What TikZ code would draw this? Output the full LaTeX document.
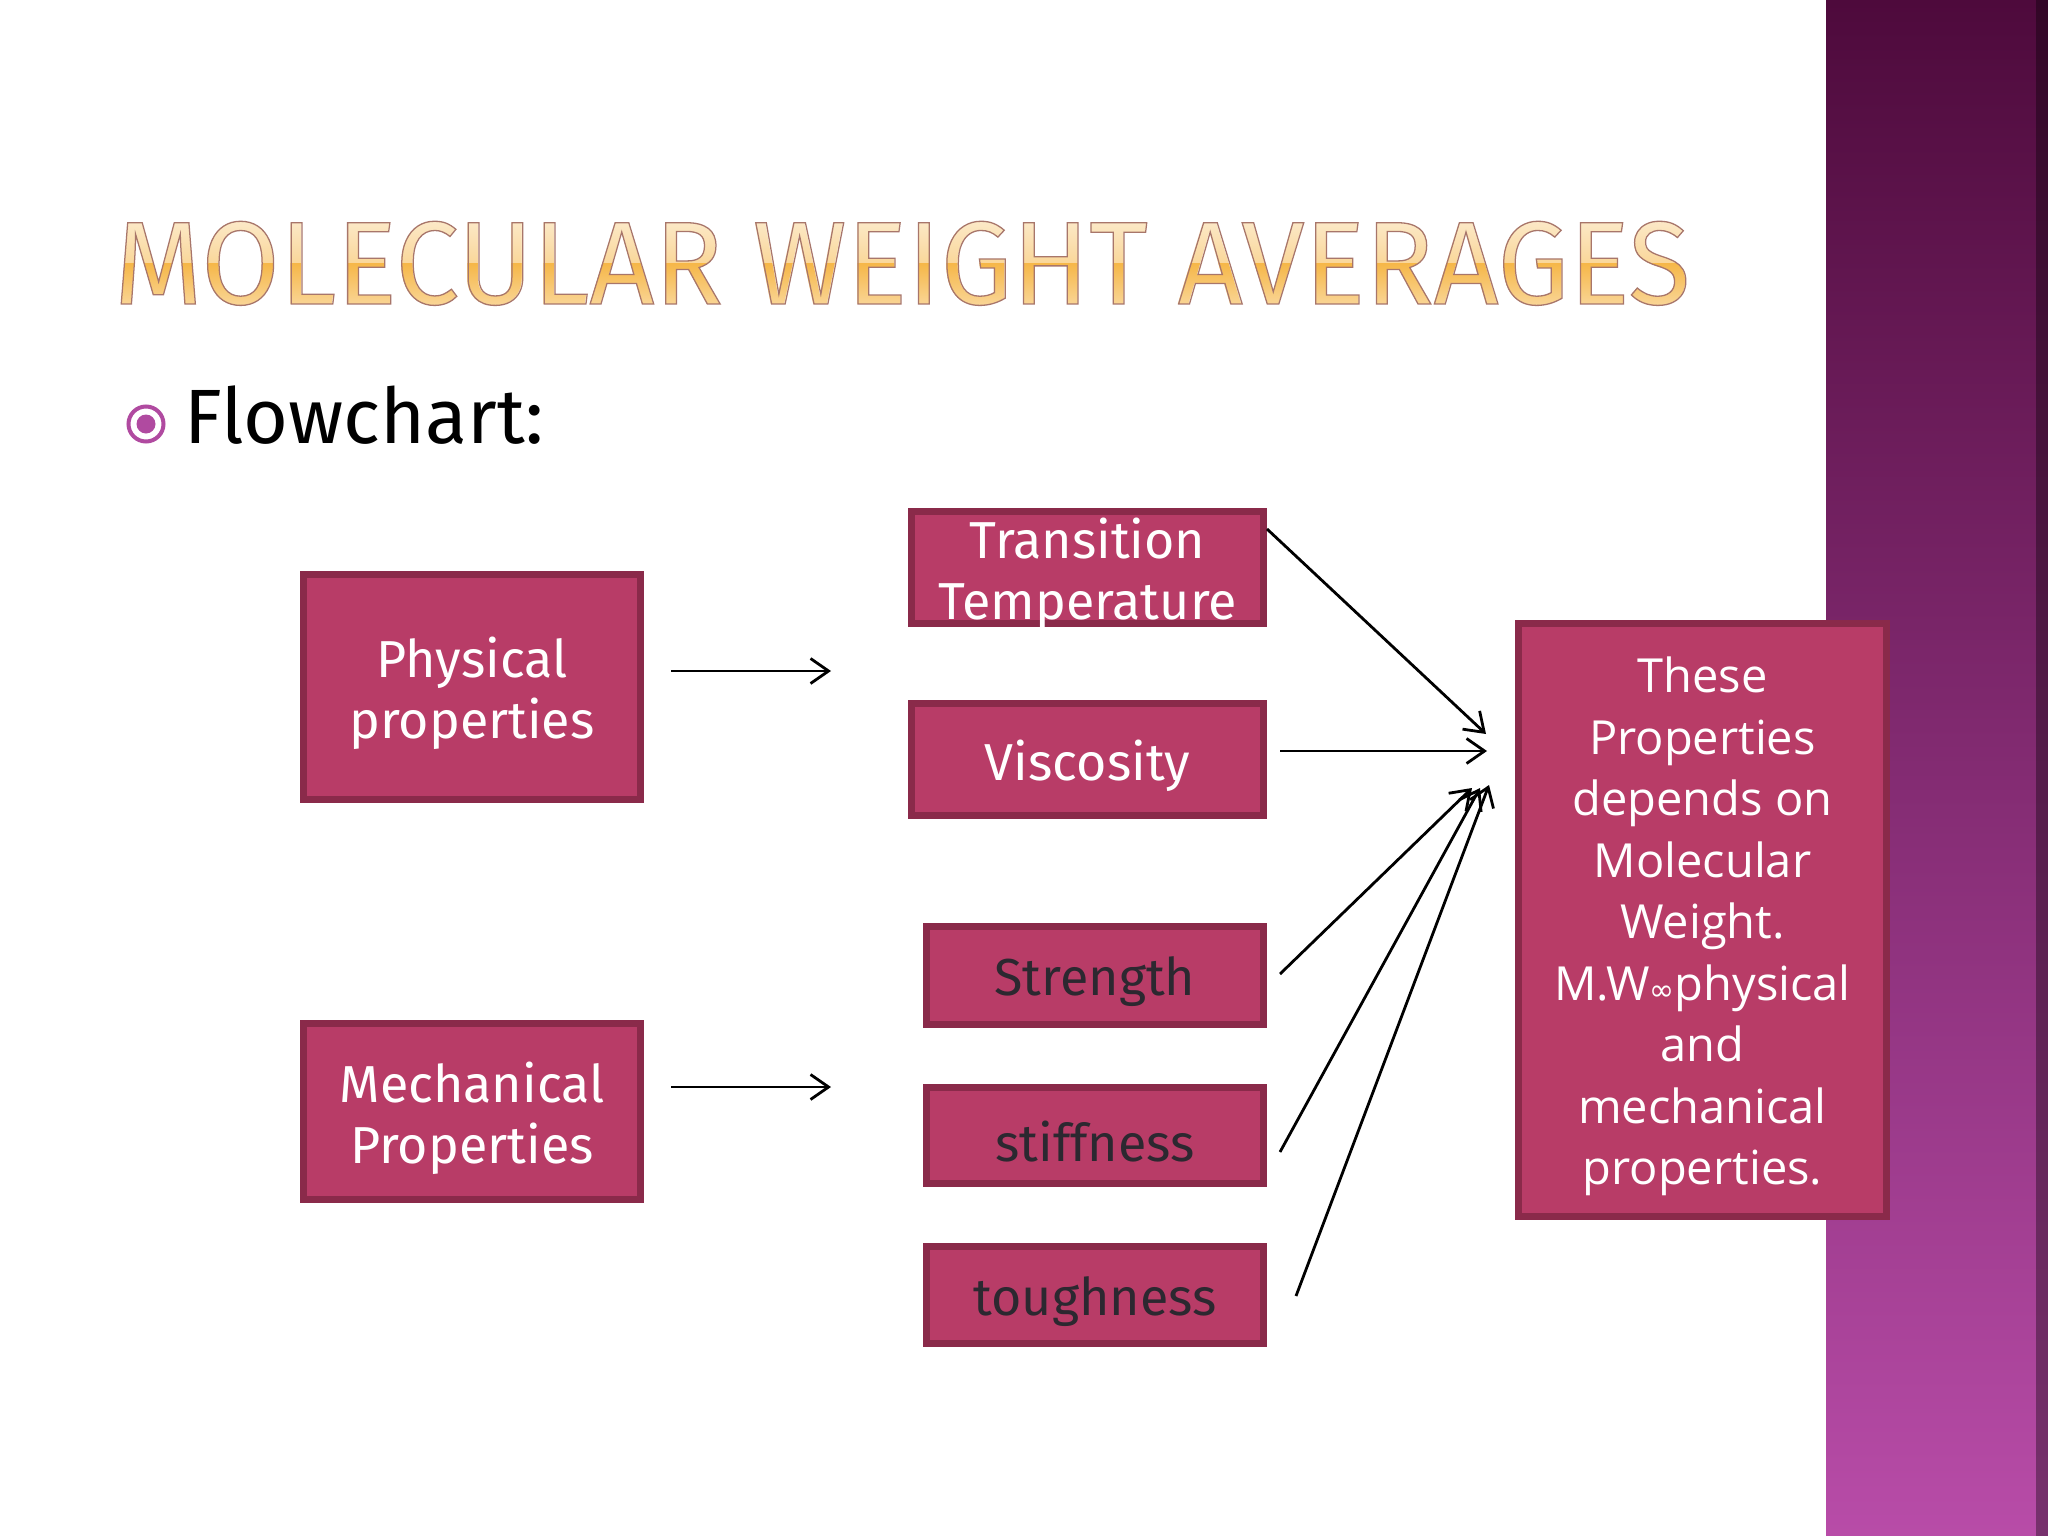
\documentclass[tikz,border=0pt]{standalone}
\usepackage{fontspec}
\usepackage{graphicx}
\setmainfont{Fira Sans}
\newfontfamily\boxfont{Fira Sans}
\newfontfamily\rfont{Open Sans}
\newfontfamily\symfont{DejaVu Sans}
\usetikzlibrary{arrows.meta,fadings}
\definecolor{boxfill}{HTML}{B83C67}
\definecolor{boxborder}{HTML}{8A2A4A}
\definecolor{darktext}{HTML}{2C2830}
\definecolor{bulletc}{HTML}{B04AA0}
\definecolor{titlec}{HTML}{F6B748}
\definecolor{titleline}{HTML}{A8766A}
\definecolor{bandtop}{HTML}{4E0A3C}
\definecolor{bandmid}{HTML}{86357F}
\definecolor{bandbot}{HTML}{B84CA8}
\tikzfading[name=fadetop, top color=transparent!25, bottom color=transparent!55]
\tikzfading[name=fadebot, top color=transparent!100, bottom color=transparent!50]
\tikzset{
  pbox/.style={draw=boxborder, line width=7pt, fill=boxfill, inner sep=0pt},
  wtext/.style={text=white, font=\boxfont\fontsize{52}{61}\selectfont, align=center, inner sep=0pt},
  dtext/.style={wtext, text=darktext},
  conn/.style={draw=black, line width=2.8pt, -{Straight Barb[length=18pt,width=25pt]}},
}
\newcommand{\titletext}{\resizebox{1576pt}{\height}{\fontsize{118}{118}\selectfont MOLECULAR WEIGHT AVERAGES}}
\begin{document}
\begin{tikzpicture}[x=1pt,y=-1pt]
\useasboundingbox (0,0) rectangle (2048,1536);
\fill[white] (0,0) rectangle (2048,1536);
% purple band
\shade[top color=bandtop, middle color=bandmid, bottom color=bandbot] (1826,0) rectangle (2048,1536);
\shade[left color=bandmid!0!black, right color=black, opacity=0.35] (2036,0) rectangle (2048,1536);
% title: orange fill, glassy white overlay, thin outline
\node[anchor=base west, inner sep=0pt, text=titlec] (title) at (114,304) {\titletext};
\fill[white, path fading=fadetop] (100,212) rectangle (1710,263);
\fill[white, path fading=fadebot] (100,263) rectangle (1710,312);
\node[anchor=base west, inner sep=0pt, text=titleline] (titleoutline) at (114,304)
  {\special{pdf:literal direct 1 Tr 1.3 w}\titletext\special{pdf:literal direct 0 Tr}};
% bullet
\node[circle, draw=bulletc, line width=4pt, minimum size=35pt, inner sep=0pt] (bul) at (146,424) {};
\node[circle, fill=bulletc, minimum size=19pt, inner sep=0pt] (buldot) at (bul.center) {};
\node[anchor=base west, inner sep=0pt] (fc) at (184,443) {\fontsize{77}{77}\selectfont Flowchart:};
% boxes
\node[pbox, minimum width=337pt, minimum height=225pt] (phys) at (472,687) {};
\node[pbox, minimum width=337pt, minimum height=176pt] (mech) at (472,1111.5) {};
\node[pbox, minimum width=352pt, minimum height=112pt] (trans) at (1087.5,567.5) {};
\node[pbox, minimum width=352pt, minimum height=112pt] (visc) at (1087.5,759.5) {};
\node[pbox, minimum width=337pt, minimum height=98pt] (str) at (1095,975.5) {};
\node[pbox, minimum width=337pt, minimum height=96pt] (stiff) at (1095,1135.5) {};
\node[pbox, minimum width=337pt, minimum height=97pt] (tough) at (1095,1295) {};
\node[pbox, minimum width=368pt, minimum height=593pt] (these) at (1702.5,920) {};
% box texts
\node[wtext] (physT) at ([yshift=-6.5pt]phys.center) {Physical\\properties};
\node[wtext] (mechT) at ([yshift=-6.5pt]mech.center) {Mechanical\\Properties};
\node[wtext] (transT) at ([yshift=-7pt]trans.center) {Transition\\Temperature};
\node[wtext] (viscT) at ([yshift=-6.5pt]visc.center) {Viscosity};
\node[dtext] (strT) at ([yshift=-6.5pt]str.center) {Strength};
\node[dtext] (stiffT) at ([yshift=-6.5pt]stiff.center) {stiffness};
\node[dtext] (toughT) at ([yshift=-7pt]tough.center) {toughness};
\node[wtext, font=\rfont\fontsize{47}{61.5}\selectfont] (theseT) at ([yshift=-6.5pt]these.center)
  {These\\Properties\\depends on\\Molecular\\Weight.\\M.W{\symfont\fontsize{30}{30}\selectfont ∞}physical\\and\\mechanical\\properties.};
% connector end points
\coordinate (p1) at (671,671);
\coordinate (p2) at (831,671);
\coordinate (m1) at (671,1087);
\coordinate (m2) at (831,1087);
\coordinate (t1) at (1267,529);
\coordinate (t2) at (1486,734);
\coordinate (v1) at (1280,751);
\coordinate (v2) at (1487,751);
\coordinate (s1) at (1280,974);
\coordinate (s2) at (1472,788);
\coordinate (f1) at (1280,1152);
\coordinate (f2) at (1480,788);
\coordinate (g1) at (1296,1296);
\coordinate (g2) at (1489,785);
\draw[conn] (p1) -- (p2);
\draw[conn] (m1) -- (m2);
\draw[conn] (t1) -- (t2);
\draw[conn] (v1) -- (v2);
\draw[conn] (s1) -- (s2);
\draw[conn] (f1) -- (f2);
\draw[conn] (g1) -- (g2);
\end{tikzpicture}
\end{document}
